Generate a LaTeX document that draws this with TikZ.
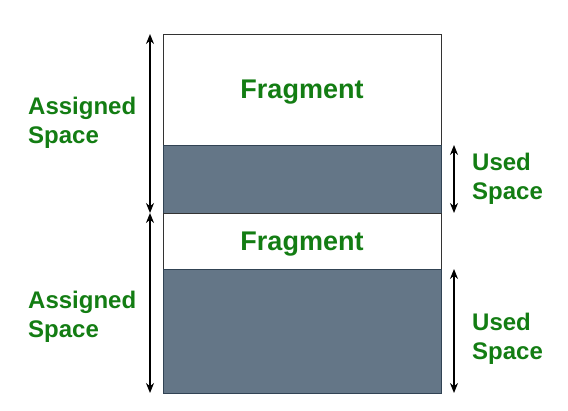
\documentclass[tikz,border=0pt]{standalone}
\usepackage{fontspec}
\setmainfont{Liberation Sans}
\usepackage{xcolor}
\usetikzlibrary{arrows.meta}
\definecolor{label-green}{HTML}{137D13}
\definecolor{used-fill}{HTML}{647687}
\definecolor{used-edge}{HTML}{314354}

\begin{document}
\begin{tikzpicture}[x=1pt, y=-1pt,
    block/.style={draw=black!80, line width=1pt, minimum width=278pt,
                  inner sep=0pt, outer sep=0pt},
    usedblock/.style={block, draw=used-edge, fill=used-fill},
    fragtext/.style={font=\fontsize{27}{32}\selectfont\bfseries, text=label-green,
                     text depth=0pt},
    sidetext/.style={font=\fontsize{24}{29}\selectfont\bfseries, text=label-green,
                     align=left, anchor=west, inner sep=0pt},
    span/.style={{Stealth[length=10pt,width=8pt]}-{Stealth[length=10pt,width=8pt]},
                 line width=1.3pt}]
  \useasboundingbox (0,0) rectangle (568,410);
  % memory blocks
  \node[block, fill=white, minimum height=111pt, fragtext] (frag1) at (302,89.5) {Fragment};
  \node[usedblock, minimum height=68pt] (used1) at (302,179) {};
  \node[block, fill=white, minimum height=56pt, fragtext] (frag2) at (302,241) {Fragment};
  \node[usedblock, minimum height=124pt] (used2) at (302,331) {};
  % assigned space, left side
  \coordinate (aleft) at (150,0);
  \draw[span] (frag1.north -| aleft) -- (used1.south -| aleft);
  \draw[span] (frag2.north -| aleft) -- (used2.south -| aleft);
  \node[sidetext] (assign1) at (28,123) {Assigned\\Space};
  \node[sidetext] (assign2) at (28,317) {Assigned\\Space};
  % used space, right side
  \coordinate (uright) at (454,0);
  \draw[span] (used1.north -| uright) -- (used1.south -| uright);
  \draw[span] (used2.north -| uright) -- (used2.south -| uright);
  \node[sidetext] (usedlab1) at (472,179) {Used\\Space};
  \node[sidetext] (usedlab2) at (472,339) {Used\\Space};
\end{tikzpicture}
\end{document}
